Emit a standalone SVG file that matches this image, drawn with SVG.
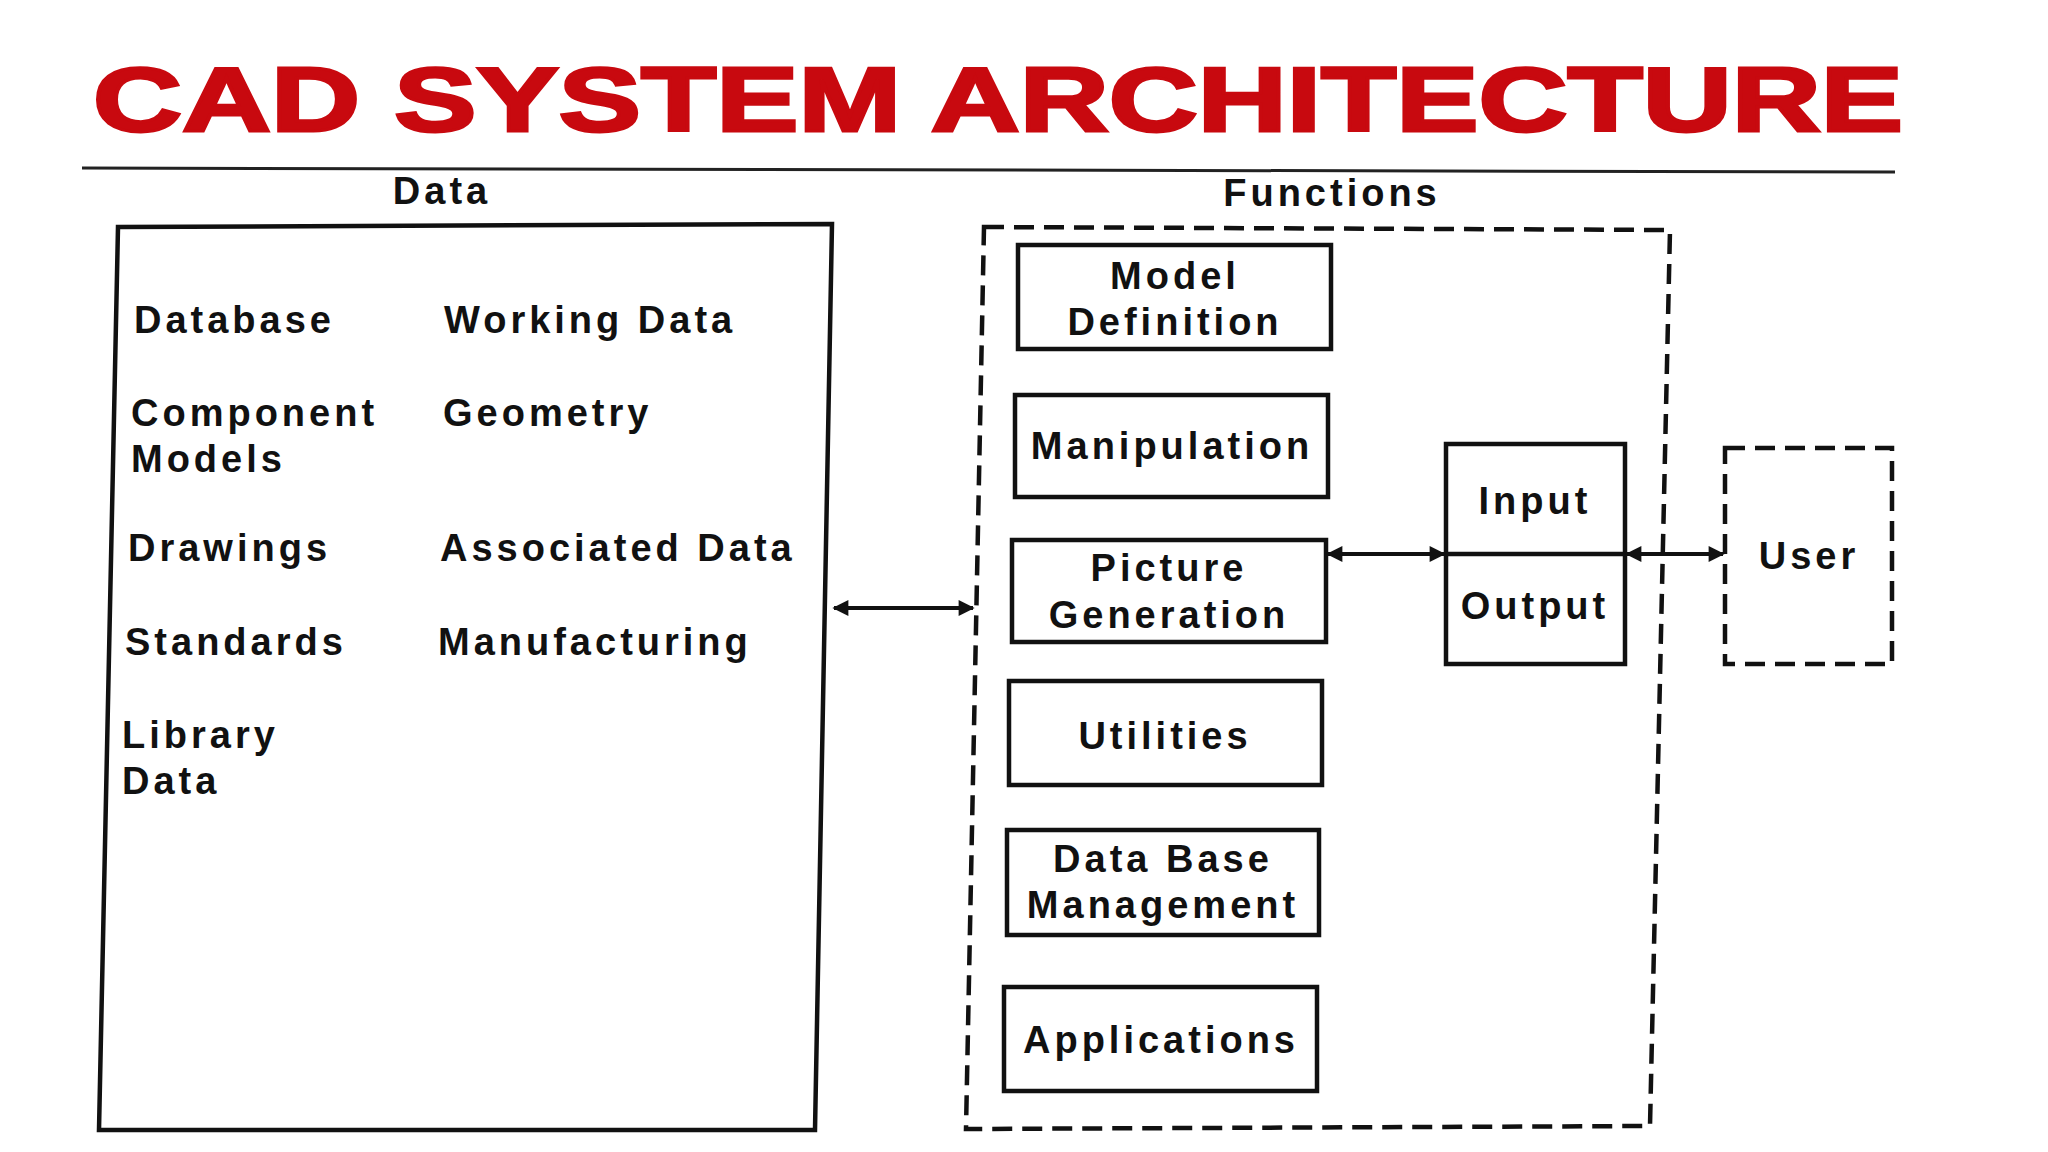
<svg xmlns="http://www.w3.org/2000/svg" width="2048" height="1152" viewBox="0 0 2048 1152">
<style>
.t{font-family:"Liberation Sans",Arial,sans-serif;font-weight:bold;font-size:38px;letter-spacing:4px;fill:#111}
.c{text-anchor:middle}
.b{fill:none;stroke:#111;stroke-width:4.5}
.d{fill:none;stroke:#111;stroke-width:4.5;stroke-dasharray:20 10}
.a{stroke:#111;stroke-width:4;fill:none;marker-start:url(#m);marker-end:url(#m)}
</style>
<defs><marker id="m" viewBox="0 0 10 10" refX="9" refY="5" markerWidth="10" markerHeight="4" orient="auto-start-reverse" markerUnits="strokeWidth"><path d="M0,0L10,5L0,10z" fill="#111"/></marker></defs>
<rect width="2048" height="1152" fill="#fff"/>
<text x="93" y="131" font-family="Liberation Sans,Arial,sans-serif" font-weight="900" font-size="90" fill="#c8090f" textLength="1810" lengthAdjust="spacingAndGlyphs" stroke="#c8090f" stroke-width="3">CAD SYSTEM ARCHITECTURE</text>
<path d="M82,168L1895,172" stroke="#222" stroke-width="3"/>
<text class="t c" x="442" y="204">Data</text>
<text class="t c" x="1332" y="206">Functions</text>
<g id="data"><polygon class="b" points="118,227 832,224 815,1130 99,1130"/>
<text class="t" x="134" y="333">Database</text><text class="t" x="444" y="333">Working Data</text>
<text class="t" x="131" y="426">Component</text><text class="t" x="131" y="472">Models</text><text class="t" x="443" y="426">Geometry</text>
<text class="t" x="128" y="561">Drawings</text><text class="t" x="440" y="561">Associated Data</text>
<text class="t" x="125" y="655">Standards</text><text class="t" x="438" y="655">Manufacturing</text>
<text class="t" x="122" y="748">Library</text><text class="t" x="122" y="794">Data</text></g>
<g id="functions"><polygon class="d" points="984,227 1670,230 1650,1126 966,1129"/>
<g id="md"><rect class="b" x="1018" y="245" width="313" height="104"/><text class="t c" x="1175" y="289">Model</text><text class="t c" x="1175" y="335">Definition</text></g>
<g id="manip"><rect class="b" x="1015" y="395" width="313" height="102"/><text class="t c" x="1172" y="459">Manipulation</text></g>
<g id="pg"><rect class="b" x="1012" y="540" width="314" height="102"/><text class="t c" x="1169" y="581">Picture</text><text class="t c" x="1169" y="628">Generation</text></g>
<g id="util"><rect class="b" x="1009" y="681" width="313" height="104"/><text class="t c" x="1165" y="749">Utilities</text></g>
<g id="dbm"><rect class="b" x="1007" y="830" width="312" height="105"/><text class="t c" x="1163" y="872">Data Base</text><text class="t c" x="1163" y="918">Management</text></g>
<g id="app"><rect class="b" x="1004" y="987" width="313" height="104"/><text class="t c" x="1161" y="1053">Applications</text></g>
</g>
<g id="io"><rect class="b" x="1446" y="444" width="179" height="220"/><path class="b" d="M1446,554H1625"/><text class="t c" x="1535" y="514">Input</text><text class="t c" x="1535" y="619">Output</text></g>
<g id="user"><rect class="d" x="1725" y="448" width="167" height="216"/><text class="t c" x="1809" y="569">User</text></g>
<g id="connectors">
<path class="a" d="M834,608H973"/>
<path class="a" d="M1328,554H1444"/>
<path class="a" d="M1627,554H1723"/>
</g>
</svg>
